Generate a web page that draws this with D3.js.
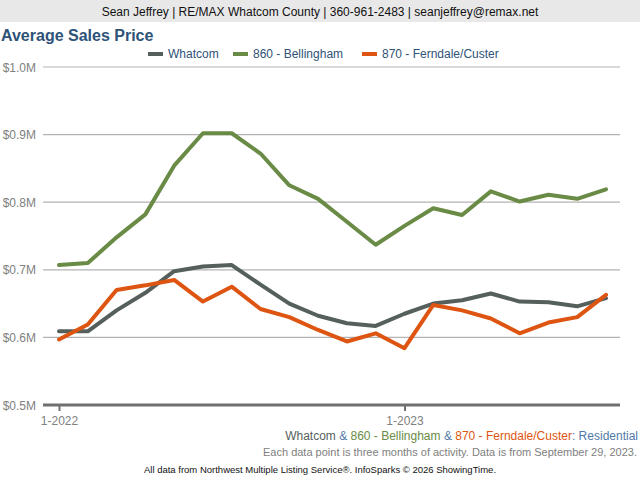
<!DOCTYPE html>
<html><head><meta charset="utf-8">
<script src="https://cdn.jsdelivr.net/npm/d3@7/dist/d3.min.js"></script>
<style>body{margin:0;background:#fff;}svg{display:block;font-family:"Liberation Sans",Arial,sans-serif;}</style>
</head><body><svg id="c" width="640" height="480"></svg>
<script>
const months = ["1-2022","2-2022","3-2022","4-2022","5-2022","6-2022","7-2022","8-2022","9-2022","10-2022","11-2022","12-2022","1-2023","2-2023","3-2023","4-2023","5-2023","6-2023","7-2023","8-2023"];
const whatcom = [0.609,0.609,0.640,0.666,0.698,0.705,0.707,0.678,0.650,0.632,0.621,0.617,0.635,0.650,0.655,0.665,0.653,0.652,0.646,0.658];
const bellingham = [0.707,0.710,0.748,0.782,0.854,0.902,0.902,0.872,0.825,0.805,0.771,0.737,0.765,0.791,0.781,0.816,0.801,0.811,0.805,0.819];
const ferndale = [0.597,0.619,0.670,0.677,0.685,0.653,0.675,0.642,0.630,0.611,0.594,0.606,0.584,0.648,0.640,0.628,0.606,0.622,0.630,0.663];
const yTicks = [0.5,0.6,0.7,0.8,0.9,1.0];
const xTickLabels = ["1-2022","1-2023"];
const seriesNames = ["Whatcom","860 - Bellingham","870 - Ferndale/Custer"];
const colors = ["#555f5c","#6a8b46","#dd5511"];

const svg = d3.select("#c");
svg.append("rect").attr("width",640).attr("height",480).attr("fill","#fff");
svg.append("rect").attr("width",640).attr("height",22).attr("fill","#e8e8e8");
svg.append("text").attr("x",320).attr("y",16).attr("text-anchor","middle").attr("font-size",12).attr("fill","#111")
  .text("Sean Jeffrey | RE/MAX Whatcom County | 360-961-2483 | seanjeffrey@remax.net");
svg.append("text").attr("x",1).attr("y",41).attr("font-size",16).attr("font-weight","bold").attr("fill","#2e5378")
  .text("Average Sales Price");

const x = d3.scalePoint().domain(months).range([59, 606]);
const y = d3.scaleLinear().domain([0.5,1.0]).range([405,67]);

// grid
svg.append("g").selectAll("line").data(yTicks.filter(d=>d>0.5)).join("line")
  .attr("x1",43).attr("x2",620).attr("y1",d=>y(d)).attr("y2",d=>y(d))
  .attr("stroke","#b3b3b3").attr("stroke-width",1.2);
svg.append("g").selectAll("text").data(yTicks).join("text")
  .attr("x",36).attr("y",d=>y(d)+4.5).attr("text-anchor","end").attr("font-size",12).attr("fill","#808080")
  .text(d=>"$"+d.toFixed(1)+"M");

// x axis
const xAxis = d3.axisBottom(x).tickValues(xTickLabels).tickSize(6).tickPadding(5);
const gx = svg.append("g").attr("transform","translate(0,405)").call(xAxis);
gx.select(".domain").remove();
gx.selectAll(".tick line").attr("stroke","#707070").attr("stroke-width",2);
gx.selectAll(".tick text").attr("font-size",12).attr("fill","#808080").attr("font-family","Liberation Sans, Arial, sans-serif");
svg.append("line").attr("x1",43).attr("x2",620).attr("y1",405).attr("y2",405).attr("stroke","#707070").attr("stroke-width",3);

// lines
const line = d3.line().x((d,i)=>x(months[i])).y(d=>y(d));
[whatcom,bellingham,ferndale].forEach((s,k)=>{
  svg.append("path").datum(s).attr("d",line).attr("fill","none").attr("stroke",colors[k])
    .attr("stroke-width",4).attr("stroke-linejoin","round").attr("stroke-linecap","round");
});

// legend
const legX = [148,233,362];
seriesNames.forEach((n,k)=>{
  svg.append("rect").attr("x",legX[k]).attr("y",52).attr("width",15).attr("height",4).attr("fill",colors[k]);
  svg.append("text").attr("x",legX[k]+20).attr("y",58).attr("font-size",12).attr("fill","#2e5378").text(n);
});

// bottom caption
const cap = svg.append("text").attr("x",638).attr("y",440).attr("text-anchor","end").attr("font-size",12);
cap.append("tspan").attr("fill","#555f5c").text("Whatcom");
cap.append("tspan").attr("fill","#4f79a8").text(" & ");
cap.append("tspan").attr("fill","#6a8b46").text("860 - Bellingham");
cap.append("tspan").attr("fill","#4f79a8").text(" & ");
cap.append("tspan").attr("fill","#dd5511").text("870 - Ferndale/Custer");
cap.append("tspan").attr("fill","#4f79a8").text(": Residential");
svg.append("text").attr("x",637).attr("y",456).attr("text-anchor","end").attr("font-size",11).attr("fill","#808080")
  .text("Each data point is three months of activity. Data is from September 29, 2023.");
svg.append("text").attr("x",320).attr("y",473).attr("text-anchor","middle").attr("font-size",9.5).attr("fill","#111")
  .attr("font-family","Liberation Sans Narrow, Arial Narrow, sans-serif")
  .text("All data from Northwest Multiple Listing Service®. InfoSparks © 2026 ShowingTime.");
</script></body></html>
